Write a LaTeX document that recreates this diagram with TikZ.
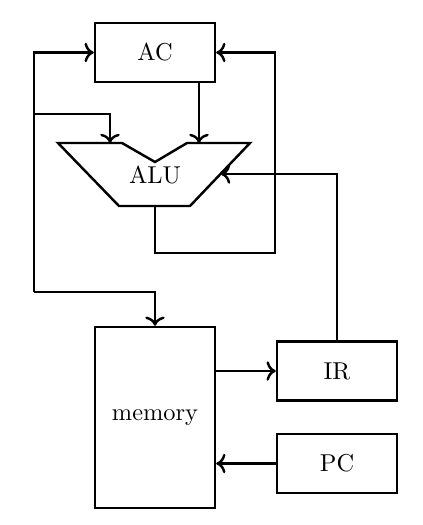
\documentclass[tikz,border=0pt]{standalone}
\usetikzlibrary{arrows,arrows.meta}
\tikzstyle{unit} = [rectangle, draw, line width=1pt, minimum width=49.2pt, minimum height=24.2pt]
\tikzset{edge/.style = {
    line width=1pt,
    ->,
  }
}

\begin{document}
\begin{tikzpicture}[x=0.41pt, y=-0.41pt]
            \useasboundingbox (0,0) rectangle (422,525);
            % vertices
            \node[unit] (ac) at (155,52.5) {AC};
            \node (alu) at (155,175) {ALU};
            \node[unit, minimum height=74.2pt] (mem) at (155,417.5) {memory};
            \node[unit] (ir) at (337,371) {IR};
            \node[unit] (pc) at (337,463.5) {PC};

            % alu outline
            \draw[line width=1pt, line join=miter] (58,143) -- (122,143) -- (155,162) -- (187,143)
                -- (250,143) -- (190,206) -- (119,206) -- cycle;
            \coordinate (aluA) at (110,143);
            \coordinate (aluB) at (199,143);
            \coordinate (aluC) at (221,174);
            \coordinate (aluout) at (155,206);
            \coordinate (busA) at (34,114);
            \coordinate (busB) at (34,292);
            \coordinate (loop) at (275,253);

            % bus lines
            \draw[edge] (busB) |- (ac.west);
            \draw[edge] (busA) -| (aluA);
            \draw[edge] (busB) -| (mem.north);
            \draw[edge] (aluB |- ac.south) -- (aluB);
            \draw[edge] (aluout) |- (loop) |- (ac.east);
            \draw[edge] (ir.north) |- (aluC);
            \draw[edge] (mem.east |- ir.west) -- (ir.west);
            \draw[edge] (pc.west) -- (mem.east |- pc.west);
\end{tikzpicture}
\end{document}
